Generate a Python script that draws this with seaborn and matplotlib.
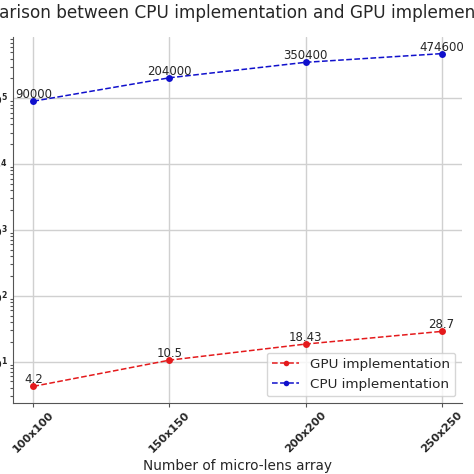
import numpy as np
import pandas as pd
import matplotlib
matplotlib.use("Agg")
import matplotlib.pyplot as plt
import seaborn as sns

# DADOS
arrays = ["100x100", "150x150", "200x200", "250x250"]
gpu_time = [4.2, 10.5, 18.43, 28.7]
cpu_time = [90000, 204000, 350400, 474600]
gpu_labels = ["4.2", "10.5", "18.43", "28.7"]
cpu_labels = ["90000", "204000", "350400", "474600"]

df = pd.DataFrame({
    "array": arrays * 2,
    "time": gpu_time + cpu_time,
    "impl": ["GPU implementation"] * 4 + ["CPU implementation"] * 4,
})

sns.set_style("ticks")
plt.rcParams["font.family"] = ["DejaVu Sans"]

fig = plt.figure(figsize=(4.74, 4.74), dpi=100)
ax = fig.add_axes([13 / 474, 71 / 474, 449 / 474, 366 / 474])

sns.lineplot(data=df, x="array", y="time", hue="impl",
             palette={"GPU implementation": "#e41a1c", "CPU implementation": "#1010cc"},
             hue_order=["GPU implementation", "CPU implementation"],
             marker="o", markersize=5, markeredgewidth=0, linestyle="--",
             linewidth=1.1, ax=ax, sort=False)

ax.set_yscale("log")
ax.margins(x=0.05)

for i in range(len(arrays)):
    ax.text(i, gpu_time[i], gpu_labels[i], ha="center", va="bottom", fontsize=8.5)
    ax.text(i, cpu_time[i], cpu_labels[i], ha="center", va="bottom", fontsize=8.5)

ax.set_title("Comparison between CPU implementation and GPU implementation",
             fontsize=12.2, pad=14)
ax.set_xlabel("Number of micro-lens array", fontsize=9.8, labelpad=3)
ax.set_ylabel("")

plt.setp(ax.get_xticklabels(), rotation=45, fontweight="bold", fontsize=8)
plt.setp(ax.get_yticklabels(), fontweight="bold", fontsize=8)
ax.tick_params(axis="y", which="major", length=0)
ax.tick_params(axis="y", which="minor", length=2, width=0.8, color="#555555")
ax.tick_params(axis="x", which="major", length=3, color="#555555", pad=2)

ax.grid(True, which="major", color="#d0d0d0", linewidth=1)
sns.despine(ax=ax)
for s in ["left", "bottom"]:
    ax.spines[s].set_color("#555555")

ax.legend(loc="lower right", fontsize=9.7, frameon=True, markerscale=0.8)

plt.savefig("out.png", dpi=100)
